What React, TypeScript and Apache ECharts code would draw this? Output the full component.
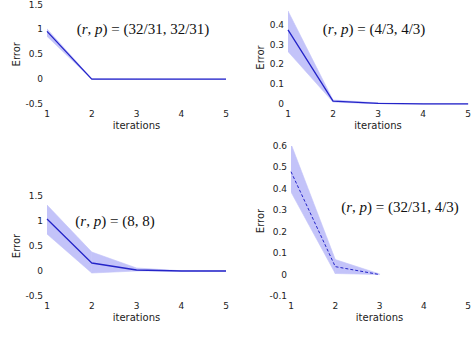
import React, { useEffect, useRef } from "react";
import * as echarts from "echarts";

const iterations = [1, 2, 3, 4, 5];

const p1Mean = [0.96, 0.0, 0.0, 0.0, 0.0];
const p1Lower = [0.86, 0.0, 0.0, 0.0, 0.0];
const p1Upper = [1.01, 0.01, 0.005, 0.0, 0.0];

const p2Mean = [0.375, 0.015, 0.003, 0.0, 0.0];
const p2Lower = [0.265, 0.01, 0.0, 0.0, 0.0];
const p2Upper = [0.47, 0.02, 0.006, 0.0, 0.0];

const p3Mean = [1.04, 0.16, 0.02, 0.0, 0.0];
const p3Lower = [0.74, -0.04, 0.0, 0.0, 0.0];
const p3Upper = [1.32, 0.38, 0.06, 0.005, 0.0];

const p4Mean = [0.48, 0.037, 0.0, null, null];
const p4Lower = [0.385, 0.005, 0.0, null, null];
const p4Upper = [0.61, 0.07, 0.003, null, null];

const titles = [
  "({i|r}, {i|p}) = (32/31, 32/31)",
  "({i|r}, {i|p}) = (4/3, 4/3)",
  "({i|r}, {i|p}) = (8, 8)",
  "({i|r}, {i|p}) = (32/31, 4/3)",
];

const LINE = "#2424c8";
const BAND = "#c3c3f9";
const TXT = "#222";

export default function App() {
  const ref = useRef<HTMLDivElement>(null);
  useEffect(() => {
    const chart = echarts.init(ref.current!, null, { renderer: "svg" });
    const grids = [
      { left: 47, right: 248, top: 4, bottom: 244 },
      { left: 288, right: 3, top: 11, bottom: 244 },
      { left: 47, right: 248, top: 196, bottom: 52 },
      { left: 291, right: 4, top: 146, bottom: 52 },
    ];
    const yCfg = [
      { min: -0.5, max: 1.5, interval: 0.5, gap: 24, showMax: true },
      { min: 0, max: 0.47, interval: 0.1, gap: 20, showMax: false },
      { min: -0.5, max: 1.5, interval: 0.5, gap: 24, showMax: true },
      { min: -0.1, max: 0.6, interval: 0.1, gap: 22, showMax: true },
    ];
    const data = [
      [p1Mean, p1Lower, p1Upper],
      [p2Mean, p2Lower, p2Upper],
      [p3Mean, p3Lower, p3Upper],
      [p4Mean, p4Lower, p4Upper],
    ];
    const xAxis = grids.map((_, i) => ({
      type: "value",
      gridIndex: i,
      min: 1,
      max: 5,
      interval: 1,
      name: "iterations",
      nameLocation: "middle",
      nameGap: 16,
      nameTextStyle: { fontFamily: "DejaVu Sans", fontSize: 10, color: TXT },
      axisLine: { show: false },
      axisTick: { show: false },
      splitLine: { show: false },
      axisLabel: { fontFamily: "DejaVu Sans", fontSize: 9, color: TXT, margin: 5 },
    }));
    const yAxis = yCfg.map((c, i) => ({
      type: "value",
      gridIndex: i,
      min: c.min,
      max: c.max,
      interval: c.interval,
      name: "Error",
      nameLocation: "middle",
      nameGap: c.gap,
      nameTextStyle: { fontFamily: "DejaVu Sans", fontSize: 10, color: TXT },
      axisLine: { show: false },
      axisTick: { show: false },
      splitLine: { show: false },
      axisLabel: {
        fontFamily: "DejaVu Sans",
        fontSize: 9,
        color: TXT,
        margin: 4,
        showMaxLabel: c.showMax,
        formatter: (v: number) => String(Math.round(v * 100) / 100),
      },
    }));
    const series: any[] = [];
    data.forEach(([mean, lower, upper], i) => {
      const bandData = iterations.map((x, k) => [x, lower[k], upper[k]]);
      series.push({
        type: "custom",
        xAxisIndex: i,
        yAxisIndex: i,
        clip: true,
        silent: true,
        data: bandData,
        encode: { x: 0, y: [1, 2] },
        renderItem: (params: any, api: any) => {
          const k = params.dataIndex;
          if (k >= bandData.length - 1) return null;
          const a = bandData[k];
          const b = bandData[k + 1];
          if (a[1] == null || a[2] == null || b[1] == null || b[2] == null) return null;
          const pts = [
            api.coord([a[0], a[1]]),
            api.coord([b[0], b[1]]),
            api.coord([b[0], b[2]]),
            api.coord([a[0], a[2]]),
          ];
          return {
            type: "polygon",
            shape: { points: pts },
            style: { fill: BAND, stroke: BAND, lineWidth: 0.6 },
          };
        },
      });
      series.push({
        type: "line",
        xAxisIndex: i,
        yAxisIndex: i,
        data: iterations.map((x, k) => [x, mean[k]]),
        symbol: "none",
        z: 5,
        lineStyle: {
          color: LINE,
          width: i === 3 ? 1 : 1.3,
          type: i === 3 ? [3, 2] : "solid",
        },
      });
    });
    const titlePos = [
      [143, 29],
      [374, 29],
      [115, 221],
      [400, 207],
    ];
    const graphic = titles.map((t, i) => ({
      type: "text",
      x: titlePos[i][0],
      y: titlePos[i][1],
      z: 100,
      style: {
        text: t,
        align: "center",
        verticalAlign: "middle",
        fontFamily: "Liberation Serif",
        fontSize: 15,
        fill: "#111",
        rich: {
          i: { fontFamily: "Liberation Serif", fontStyle: "italic", fontSize: 15, fill: "#111" },
        },
      },
    }));
    chart.setOption({
      animation: false,
      backgroundColor: "#fff",
      grid: grids,
      xAxis,
      yAxis,
      series,
      graphic,
    });
    return () => chart.dispose();
  }, []);
  return <div ref={ref} style={{ width: 474, height: 348, position: "absolute", left: 0, top: 0 }} />;
}
